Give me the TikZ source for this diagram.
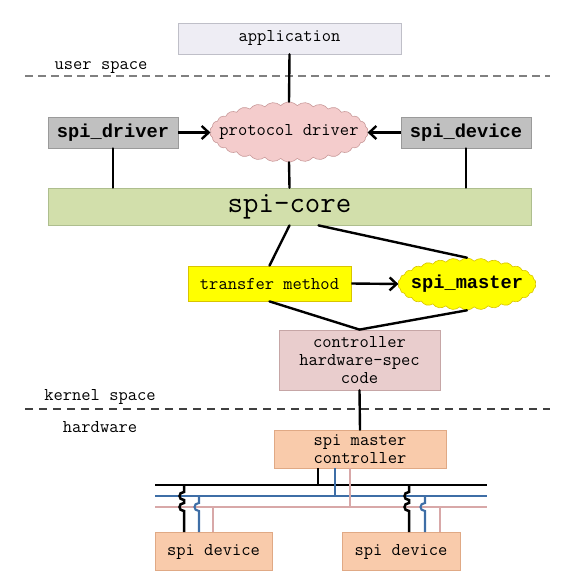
\documentclass[tikz,border=0pt]{standalone}
\usepackage{fontspec}
\usepackage{tikz}
\usetikzlibrary{arrows.meta,positioning,shapes.symbols}
\newfontfamily\boldmono{Liberation Mono}
\definecolor{AppLilac}{HTML}{EEEDF4}
\definecolor{AppLine}{HTML}{BFBFC8}
\definecolor{BoxGrey}{HTML}{C0C0C0}
\definecolor{BoxGreyLine}{HTML}{9A9A9A}
\definecolor{DrvPink}{HTML}{F4CCCC}
\definecolor{DrvPinkLine}{HTML}{C99A9A}
\definecolor{CoreGreen}{HTML}{D2DFAB}
\definecolor{CoreLine}{HTML}{AEBE8E}
\definecolor{XferYellow}{HTML}{FFFF00}
\definecolor{XferLine}{HTML}{D9C400}
\definecolor{HwPink}{HTML}{E9CDCD}
\definecolor{HwLine}{HTML}{C6A6A6}
\definecolor{CtlOrange}{HTML}{F9CBAB}
\definecolor{CtlLine}{HTML}{E0A985}
\definecolor{BusBlue}{HTML}{3E6EA6}
\definecolor{BusPink}{HTML}{D8A8A8}

\begin{document}
\begin{tikzpicture}[x=1pt,y=-1pt,
  every node/.style={font=\ttfamily\fontsize{18}{18}\selectfont,align=center,inner sep=0pt},
  plainbox/.style={draw,line width=0.8pt,minimum height=31pt},
  greybox/.style={plainbox,fill=BoxGrey,draw=BoxGreyLine,minimum width=130pt,
                  font=\boldmono\bfseries\fontsize{18.7}{19}\selectfont},
  puff/.style={cloud,cloud puffs=30,cloud puff arc=95,cloud ignores aspect,draw,line width=0.6pt},
  boldlbl/.style={font=\boldmono\bfseries\fontsize{18.7}{19}\selectfont},
  orangebox/.style={plainbox,fill=CtlOrange,draw=CtlLine,minimum height=38pt},
  conn/.style={line width=2.4pt,line cap=round},
  arr/.style={line width=2.4pt,-{Straight Barb[length=7pt,width=13pt,line width=2.4pt]}},
  userline/.style={line width=2.4pt,draw=black!50,dash pattern=on 8pt off 5pt},
  kernline/.style={line width=1.4pt,draw=black!75,dash pattern=on 8pt off 6pt},
  wireK/.style={line width=2.5pt},
  wireB/.style={line width=2.1pt,draw=BusBlue},
  wireP/.style={line width=2.1pt,draw=BusPink}
]
  \useasboundingbox (0,0) rectangle (588,588);

  % user space / kernel
  \node[plainbox,fill=AppLilac,draw=AppLine,minimum width=223pt] (app) at (289.5,38.5) {application};
  \node (usr) at (101,68) {user space};
  \coordinate (usrL) at (25,76);
  \coordinate (usrR) at (550,76);
  \draw[userline] (usrL) -- (usrR);

  \node[greybox] (drv) at (113,132.5) {spi\_driver};
  \node[greybox] (dev) at (466,132.5) {spi\_device};
  \node[puff,fill=DrvPink,draw=DrvPinkLine,minimum width=158pt,minimum height=60pt,
        label={center:protocol driver}] (pdrv) at (289,132) {};
  \node[plainbox,fill=CoreGreen,draw=CoreLine,minimum width=483pt,minimum height=37pt,
        font=\ttfamily\fontsize{30}{30}\selectfont] (core) at (289.5,206.5) {spi-core};
  \node[plainbox,fill=XferYellow,draw=XferLine,minimum width=163pt,minimum height=35pt] (trans) at (269.5,283.5) {transfer method};
  \node[puff,fill=XferYellow,draw=XferLine,minimum width=138pt,minimum height=52pt,
        label={[boldlbl]center:{spi\_master}}] (mst) at (467,284) {};
  \node[plainbox,fill=HwPink,draw=HwLine,minimum width=161pt,minimum height=60pt] (hw) at (359.5,360) {controller\\hardware-spec\\code};

  \draw[conn] (app.south) -- (pdrv.north);
  \draw[arr] (drv.east) -- (drv.east -| pdrv.west);
  \draw[arr] (dev.west) -- (dev.west -| pdrv.east);
  \draw[conn] (drv.south) -- (drv.south |- core.north);
  \draw[conn] (pdrv.south) -- (core.north);
  \draw[conn] (dev.south) -- (dev.south |- core.north);
  \draw[conn] (core.south) -- (trans.north);
  \draw[conn] ([xshift=29pt]core.south) -- (mst.north);
  \draw[arr] (trans.east) -- (mst.west);
  \draw[conn] (trans.south) -- (hw.north);
  \draw[conn] (mst.south) -- (hw.north);

  % hardware
  \node (krn) at (100,397) {kernel space};
  \node (hwl) at (100,427) {hardware};
  \coordinate (krnL) at (25,409);
  \coordinate (krnR) at (550,409);
  \draw[kernline] (krnL) -- (krnR);

  \node[orangebox,minimum width=172pt] (mctl) at (360,449) {spi master\\controller};
  \node[orangebox,minimum width=117pt] (dev1) at (213.5,551.5) {spi device};
  \node[orangebox,minimum width=118pt] (dev2) at (401,551.5) {spi device};
  \draw[conn] (hw.south) -- (mctl.north);

  \coordinate (busKl) at (155,485); \coordinate (busKr) at (487,485);
  \coordinate (busBl) at (155,496); \coordinate (busBr) at (487,496);
  \coordinate (busPl) at (155,507); \coordinate (busPr) at (487,507);
  \draw[wireK] (busKl) -- (busKr);
  \draw[wireB] (busBl) -- (busBr);
  \draw[wireP] (busPl) -- (busPr);

  \coordinate (tapK) at (318,485);
  \coordinate (tapB) at (335,496);
  \coordinate (tapP) at (350,507);
  \draw[wireK] (tapK |- mctl.south) -- (tapK);
  \draw[wireB] (tapB |- mctl.south) -- (tapB);
  \draw[wireP] (tapP |- mctl.south) -- (tapP);

  \coordinate (d1K) at (184,485); \coordinate (d1B) at (199,496); \coordinate (d1P) at (213,507);
  \coordinate (d2K) at (409,485); \coordinate (d2B) at (425,496); \coordinate (d2P) at (440,507);
  \draw[wireK] (d1K) -- ++(0,7) .. controls +(-6,0) and +(-6,0) .. ++(0,8) -- ++(0,3)
    .. controls +(-6,0) and +(-6,0) .. ++(0,8) -- (d1K |- dev1.north);
  \draw[wireB] (d1B) -- ++(0,7) .. controls +(-6,0) and +(-6,0) .. ++(0,8) -- (d1B |- dev1.north);
  \draw[wireP] (d1P) -- (d1P |- dev1.north);
  \draw[wireK] (d2K) -- ++(0,7) .. controls +(-6,0) and +(-6,0) .. ++(0,8) -- ++(0,3)
    .. controls +(-6,0) and +(-6,0) .. ++(0,8) -- (d2K |- dev2.north);
  \draw[wireB] (d2B) -- ++(0,7) .. controls +(-6,0) and +(-6,0) .. ++(0,8) -- (d2B |- dev2.north);
  \draw[wireP] (d2P) -- (d2P |- dev2.north);
\end{tikzpicture}
\end{document}
